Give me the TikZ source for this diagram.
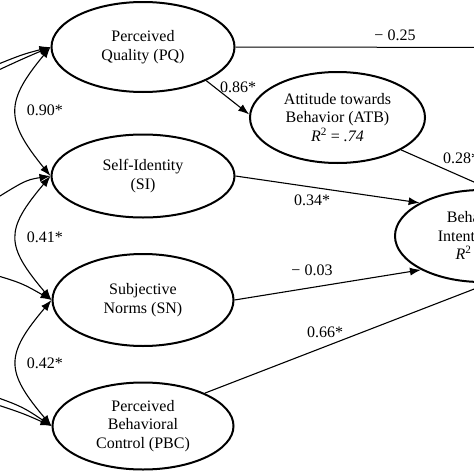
\documentclass[tikz,border=0pt]{standalone}
\usepackage{fontspec}
\setmainfont{Liberation Serif}
\usetikzlibrary{arrows.meta,shapes.geometric}
\begin{document}
\begin{tikzpicture}[x=1pt,y=-1pt,
  lat/.style={draw,ellipse,line width=2pt,inner sep=0pt,align=center,
    font=\fontsize{16}{18.5}\selectfont},
  pth/.style={line width=1.1pt,-{Latex[length=11pt,width=8pt]}},
  pln/.style={line width=1pt},
  cov/.style={line width=1.1pt,{Latex[length=11pt,width=8pt]}-{Latex[length=11pt,width=8pt]}},
  lab/.style={font=\fontsize{16}{18}\selectfont,inner sep=0pt}]
\useasboundingbox (0,0) rectangle (474,474);
\clip (0,0) rectangle (474,474);
% latent variables
\node[lat,minimum width=183pt,minimum height=90pt] (PQ) at (143,47) {Perceived\\Quality (PQ)};
\node[lat,minimum width=183pt,minimum height=83pt] (SI) at (143,176) {Self-Identity\\(SI)};
\node[lat,minimum width=181pt,minimum height=92pt] (SN) at (143,300) {Subjective\\Norms (SN)};
\node[lat,minimum width=181pt,minimum height=87pt] (PBC) at (143,426) {Perceived\\Behavioral\\Control (PBC)};
\node[lat,minimum width=175pt,minimum height=91pt] (ATB) at (337.5,117.5) {Attitude towards\\Behavior (ATB)\\\textit{R}\textsuperscript{2} = \textit{.74}};
\node[lat,minimum width=174pt,minimum height=92pt] (BI) at (482,236) {Behavioral\\Intention (BI)\\\textit{R}\textsuperscript{2}\phantom{ = .74}};
% free ends on the left (outside the frame)
\coordinate (a1) at (-40,80);  \coordinate (c1) at (20,55);
\coordinate (a2) at (-40,88);  \coordinate (c2) at (20,60);
\coordinate (a3) at (-30,215); \coordinate (c3) at (25,180);
\coordinate (a4) at (-30,268); \coordinate (c4) at (20,282);
\coordinate (a5) at (-40,385); \coordinate (c5) at (20,405);
\coordinate (a6) at (-40,393); \coordinate (c6) at (20,412);
\coordinate (pqoff) at (520,47.5);
% incoming from left
\draw[pth] (a1) .. controls (c1) .. (PQ.west);
\draw[pth] (a2) .. controls (c2) .. (PQ.west);
\draw[pth] (a3) .. controls (c3) .. (SI.west);
\draw[pth] (a4) .. controls (c4) .. (SN.west);
\draw[pth] (a5) .. controls (c5) .. (PBC.west);
\draw[pth] (a6) .. controls (c6) .. (PBC.west);
% correlations
\draw[cov] (PQ.west) .. controls (5,102) and (5,120) .. (SI.west);
\draw[cov] (SI.west) .. controls (5,230) and (5,245) .. (SN.west);
\draw[cov] (SN.west) .. controls (5,355) and (5,371) .. (PBC.west);
\node[lab] (l90) at (45,110) {0.90*};
\node[lab] (l41) at (45,237) {0.41*};
\node[lab] (l42) at (45,363) {0.42*};
% structural paths
\draw[pln] (PQ.east) -- (pqoff);
\node[lab] (l25) at (395,35) {− 0.25};
\draw[pth] (PQ.-28) -- (ATB.178);
\node[lab] (l86) at (238,87) {0.86*};
\draw[pth] (ATB.-27) -- (BI.80);
\node[lab] (l28) at (461,158) {0.28*};
\draw[pth] (SI.east) -- (BI.152);
\node[lab] (l34) at (312,200) {0.34*};
\draw[pth] (SN.east) -- (BI.209);
\node[lab] (l03) at (312,270) {− 0.03};
\draw[pth] (PBC.28) -- (BI.-80);
\node[lab] (l66) at (325,332) {0.66*};
\end{tikzpicture}
\end{document}
